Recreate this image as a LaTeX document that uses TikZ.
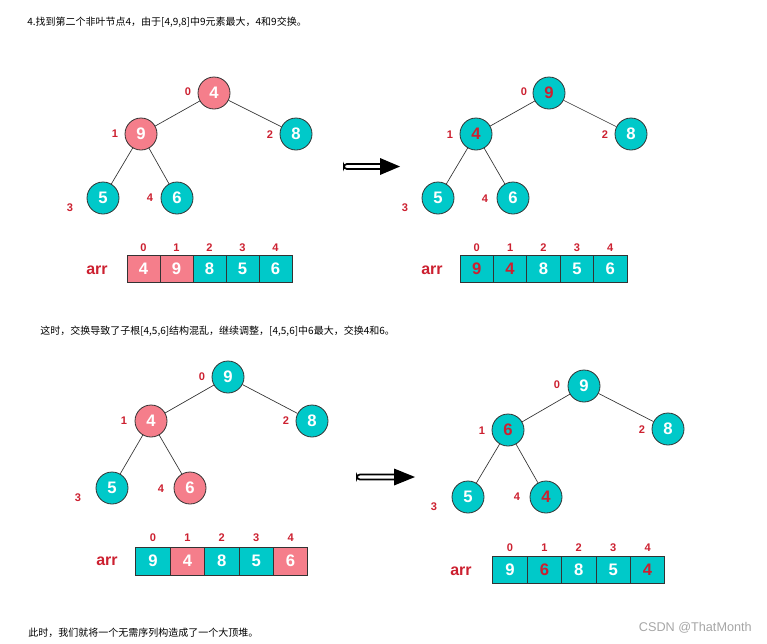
\documentclass[tikz,border=0pt]{standalone}
\usepackage{fontspec}
\setmainfont{Liberation Sans}
\newfontfamily\cjk{Noto Sans CJK SC}
\definecolor{pinkc}{HTML}{F57E8B}
\definecolor{tealc}{HTML}{00C9C9}
\definecolor{redc}{HTML}{CC2030}
\definecolor{edgec}{HTML}{333333}
\begin{document}
\begin{tikzpicture}[x=0.75pt,y=-0.75pt,
  nd/.style={circle, draw=edgec, line width=0.6pt, minimum size=24pt, inner sep=0pt,
    font=\fontsize{12.5}{12.5}\selectfont\bfseries, text=white},
  pk/.style={fill=pinkc}, tl/.style={fill=tealc}, rt/.style={text=redc},
  idx/.style={font=\fontsize{8.3}{8.3}\selectfont\bfseries, text=redc, inner sep=0pt},
  arrlbl/.style={font=\fontsize{12}{12}\selectfont\bfseries, text=redc, inner sep=0pt},
  cell/.style={draw=edgec, line width=0.6pt, minimum height=20.25pt, inner sep=0pt,
    font=\fontsize{12.5}{12.5}\selectfont\bfseries},
  lnk/.style={draw=edgec, line width=0.5pt},
  captxt/.style={font=\cjk\fontsize{7.5}{9}\selectfont, anchor=west, inner sep=0pt},
  wmark/.style={font=\fontsize{9.5}{9.5}\selectfont, text=black!35, anchor=east, inner sep=0pt},
  shaft/.style={draw=black, line width=1.3pt, fill=white, rounded corners=2.2pt},
]
\useasboundingbox (0,0) rectangle (767,643);

% captions
\node[captxt] (t1) at (27,22) {4.找到第二个非叶节点4，由于[4,9,8]中9元素最大，4和9交换。};
\node[captxt] (t2) at (40,331) {这时，交换导致了子根[4,5,6]结构混乱，继续调整，[4,5,6]中6最大，交换4和6。};
\node[captxt] (t3) at (28,633) {此时，我们就将一个无需序列构造成了一个大顶堆。};
\node[wmark] (wm) at (752,628) {CSDN @ThatMonth};

% ---------- tree 1 ----------
\node[nd,pk] (a0) at (214,93) {4};
\node[nd,pk] (a1) at (141,134) {9};
\node[nd,tl] (a2) at (296,134) {8};
\node[nd,tl] (a3) at (103,198) {5};
\node[nd,tl] (a4) at (177,198) {6};
\draw[lnk] (a0) -- (a1); \draw[lnk] (a0) -- (a2);
\draw[lnk] (a1) -- (a3); \draw[lnk] (a1) -- (a4);
\node[idx] (al0) at (188,92) {0};
\node[idx] (al1) at (115,134) {1};
\node[idx] (al2) at (270,135) {2};
\node[idx] (al3) at (70,208) {3};
\node[idx] (al4) at (150,198) {4};
\node[arrlbl] (aarr) at (97,270) {arr};
\foreach \v/\f/\t [count=\i from 0] in {4/pinkc/white,9/pinkc/white,8/tealc/white,5/tealc/white,6/tealc/white}{
  \node[cell, fill=\f, text=\t, minimum width=24.75pt] (ac\i) at ({143.5+33*\i},268.5) {\v};
  \node[idx] (ai\i) at ({143.5+33*\i},248) {\i};
}

% ---------- arrow 1 ----------
\draw[shaft] (344,164) rectangle (383,169);
\fill[black] (380,158) -- (400,166.5) -- (380,175) -- cycle;

% ---------- tree 2 ----------
\node[nd,tl,rt] (b0) at (549,93) {9};
\node[nd,tl,rt] (b1) at (476,134) {4};
\node[nd,tl] (b2) at (631,134) {8};
\node[nd,tl] (b3) at (438,198) {5};
\node[nd,tl] (b4) at (513,198) {6};
\draw[lnk] (b0) -- (b1); \draw[lnk] (b0) -- (b2);
\draw[lnk] (b1) -- (b3); \draw[lnk] (b1) -- (b4);
\node[idx] (bl0) at (524,92) {0};
\node[idx] (bl1) at (450,135) {1};
\node[idx] (bl2) at (605,135) {2};
\node[idx] (bl3) at (405,208) {3};
\node[idx] (bl4) at (485,199) {4};
\node[arrlbl] (barr) at (432,270) {arr};
\foreach \v/\f/\t [count=\i from 0] in {9/tealc/redc,4/tealc/redc,8/tealc/white,5/tealc/white,6/tealc/white}{
  \node[cell, fill=\f, text=\t, minimum width=25pt] (bc\i) at ({476.7+33.4*\i},268.5) {\v};
  \node[idx] (bi\i) at ({476.7+33.4*\i},248) {\i};
}

% ---------- tree 3 ----------
\node[nd,tl] (c0) at (228,377) {9};
\node[nd,pk] (c1) at (151,421) {4};
\node[nd,tl] (c2) at (312,421) {8};
\node[nd,tl] (c3) at (112,488) {5};
\node[nd,pk] (c4) at (190,488) {6};
\draw[lnk] (c0) -- (c1); \draw[lnk] (c0) -- (c2);
\draw[lnk] (c1) -- (c3); \draw[lnk] (c1) -- (c4);
\node[idx] (cl0) at (202,377) {0};
\node[idx] (cl1) at (124,421) {1};
\node[idx] (cl2) at (286,421) {2};
\node[idx] (cl3) at (78,498) {3};
\node[idx] (cl4) at (161,489) {4};
\node[arrlbl] (carr) at (107,561) {arr};
\foreach \v/\f/\t [count=\i from 0] in {9/tealc/white,4/pinkc/white,8/tealc/white,5/tealc/white,6/pinkc/white}{
  \node[cell, fill=\f, text=\t, minimum width=25.8pt, minimum height=21pt] (cc\i) at ({153+34.4*\i},561) {\v};
  \node[idx] (ci\i) at ({153+34.4*\i},538) {\i};
}

% ---------- arrow 2 ----------
\draw[shaft] (357,474.5) rectangle (397,479.5);
\fill[black] (394,468.5) -- (415,477) -- (394,485.5) -- cycle;

% ---------- tree 4 ----------
\node[nd,tl] (d0) at (584,386) {9};
\node[nd,tl,rt] (d1) at (508,430) {6};
\node[nd,tl] (d2) at (668,429) {8};
\node[nd,tl] (d3) at (468,497) {5};
\node[nd,tl,rt] (d4) at (546,497) {4};
\draw[lnk] (d0) -- (d1); \draw[lnk] (d0) -- (d2);
\draw[lnk] (d1) -- (d3); \draw[lnk] (d1) -- (d4);
\node[idx] (dl0) at (557,385) {0};
\node[idx] (dl1) at (482,431) {1};
\node[idx] (dl2) at (642,430) {2};
\node[idx] (dl3) at (434,507) {3};
\node[idx] (dl4) at (517,497) {4};
\node[arrlbl] (darr) at (461,571) {arr};
\foreach \v/\f/\t [count=\i from 0] in {9/tealc/white,6/tealc/redc,8/tealc/white,5/tealc/white,4/tealc/redc}{
  \node[cell, fill=\f, text=\t, minimum width=25.8pt] (dc\i) at ({510+34.4*\i},569.5) {\v};
  \node[idx] (di\i) at ({510+34.4*\i},548) {\i};
}
\end{tikzpicture}
\end{document}
